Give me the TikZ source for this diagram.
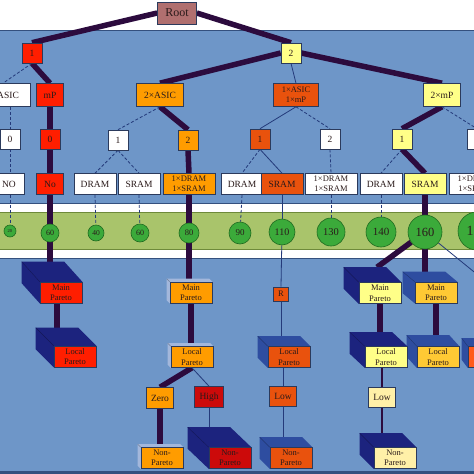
\documentclass[tikz,border=0pt]{standalone}
\usepackage{fontspec}
\setmainfont{Liberation Serif}
\usetikzlibrary{calc}
\pgfdeclarelayer{bg}
\pgfdeclarelayer{edges}
\pgfdeclarelayer{depth}
\pgfsetlayers{bg,edges,depth,main}
\definecolor{bgblue}{HTML}{6E96C8}
\definecolor{frame}{HTML}{34507E}
\definecolor{bandgreen}{HTML}{A9C46B}
\definecolor{banddark}{HTML}{6E8A3A}
\definecolor{leafgreen}{HTML}{3BAA3A}
\definecolor{leafdark}{HTML}{1F6B20}
\definecolor{wire}{HTML}{2C0B3E}
\definecolor{linkblue}{HTML}{243A7A}
\definecolor{edgecol}{HTML}{2B3A5C}
\definecolor{ink}{HTML}{2A1A1A}
\definecolor{rootc}{HTML}{B06F6F}
\definecolor{redc}{HTML}{FF1E00}
\definecolor{orangec}{HTML}{FF9C00}
\definecolor{darkor}{HTML}{E9520D}
\definecolor{yellowc}{HTML}{FFFF88}
\definecolor{paleyel}{HTML}{FFF0A8}
\definecolor{goldc}{HTML}{FFC934}
\definecolor{darkred}{HTML}{CC0A0A}
\definecolor{redor}{HTML}{FF5A1A}
\definecolor{deepnavy}{HTML}{1C237E}
\definecolor{midblue}{HTML}{2E4DA0}
\definecolor{paleblue}{HTML}{A3B7DB}
\tikzset{
  box/.style={draw=edgecol, line width=0.6pt, inner sep=1pt, minimum height=21pt,
    align=center, text=ink, font=\fontsize{9.5}{10}\selectfont},
  twoline/.style={font=\fontsize{8.5}{10}\selectfont},
  numbox/.style={box, minimum width=20pt, minimum height=20pt},
  parbox/.style={box, minimum width=42pt, font=\fontsize{8.5}{10.5}\selectfont},
  val/.style={circle, fill=leafgreen, draw=leafdark, line width=0.6pt, inner sep=0pt, text=ink},
  heavy/.style={draw=wire, line width=5.5pt},
  medium/.style={draw=wire, line width=2.6pt},
  link/.style={draw=linkblue, line width=0.8pt},
  dashlink/.style={draw=linkblue, line width=0.8pt, dash pattern=on 3pt off 2pt}
}
% front face as a node, the block behind it on the depth layer
\newcommand{\paretobox}[6]{%
  \node[parbox, fill=#4] (#1) at (#2) {#6};
  \coordinate (#1-top) at ($(#1.north)+(#3)$);
  \begin{pgfonlayer}{depth}
    \fill[#5] ($(#1.north west)+(#3)$) -- ($(#1.north east)+(#3)$) -- (#1.north east)
      -- (#1.south east) -- (#1.south west) -- ($(#1.south west)+(#3)$) -- cycle;
    \draw[#5!70!black, line width=0.4pt] (#1.north west) -- ($(#1.north west)+(#3)$);
  \end{pgfonlayer}}

\begin{document}
\begin{tikzpicture}[x=1pt, y=-1pt]
  \useasboundingbox (0,0) rectangle (474,474);

  \begin{pgfonlayer}{bg}
    \fill[white] (0,0) rectangle (474,474);
    \fill[bgblue] (0,30) rectangle (474,203);
    \draw[frame, line width=1pt] (0,30) -- (474,30);
    \draw[frame, line width=0.8pt] (0,203) -- (474,203);
    \fill[bandgreen] (0,212) rectangle (474,249);
    \draw[banddark, line width=0.8pt] (0,212) -- (474,212);
    \draw[banddark, line width=0.8pt] (0,249) -- (474,249);
    \fill[bgblue] (0,258) rectangle (474,474);
    \draw[frame, line width=0.8pt] (0,258) -- (474,258);
    \fill[frame] (0,471) rectangle (474,474);
  \end{pgfonlayer}

  % tree
  \node[box, fill=rootc, minimum width=39pt, minimum height=22pt, font=\fontsize{12}{13}\selectfont] (root) at (177,13) {Root};

  \node[numbox, fill=redc] (a1) at (32,53) {1};
  \node[numbox, fill=yellowc] (a2) at (291,53) {2};

  \node[box, fill=white, minimum width=54pt, minimum height=23pt] (b1) at (3,95) {1×ASIC};
  \node[box, fill=redc, minimum width=27pt, minimum height=23pt] (b2) at (50,95) {mP};
  \node[box, fill=orangec, minimum width=47pt, minimum height=23pt] (b3) at (160,95) {2×ASIC};
  \node[box, fill=darkor, minimum width=45pt, minimum height=23pt, twoline] (b4) at (296,95) {1×ASIC\\1×mP};
  \node[box, fill=yellowc, minimum width=37pt, minimum height=23pt] (b5) at (442,95) {2×mP};

  \node[numbox, fill=white] (c1) at (10,139) {0};
  \node[numbox, fill=redc] (c2) at (50,139) {0};
  \node[numbox, fill=white] (c3) at (118,140) {1};
  \node[numbox, fill=orangec] (c4) at (188,140) {2};
  \node[numbox, fill=darkor] (c5) at (260,139) {1};
  \node[numbox, fill=white] (c6) at (330,139) {2};
  \node[numbox, fill=yellowc] (c7) at (402,139) {1};
  \node[numbox, fill=white] (c8) at (477,139) {2};

  \node[box, fill=white, minimum width=30pt] (d1) at (9,184) {NO};
  \node[box, fill=redc, minimum width=27pt] (d2) at (50,184) {No};
  \node[box, fill=white, minimum width=42pt] (d3) at (95,184) {DRAM};
  \node[box, fill=white, minimum width=42pt] (d4) at (139,184) {SRAM};
  \node[box, fill=orangec, minimum width=52pt, twoline] (d5) at (189,184) {1×DRAM\\1×SRAM};
  \node[box, fill=white, minimum width=42pt] (d6) at (242,184) {DRAM};
  \node[box, fill=darkor, minimum width=42pt] (d7) at (282,184) {SRAM};
  \node[box, fill=white, minimum width=52pt, twoline] (d8) at (331,184) {1×DRAM\\1×SRAM};
  \node[box, fill=white, minimum width=42pt] (d9) at (381,184) {DRAM};
  \node[box, fill=yellowc, minimum width=42pt] (d10) at (425,184) {SRAM};
  \node[box, fill=white, minimum width=52pt, twoline] (d11) at (475,184) {1×DRAM\\1×SRAM};

  % values
  \node[val, minimum size=12pt, font=\fontsize{4.5}{5}\selectfont] (e1) at (10,231) {20};
  \node[val, minimum size=18pt, font=\fontsize{8}{9}\selectfont] (e2) at (50,233) {60};
  \node[val, minimum size=16pt, font=\fontsize{7.5}{8}\selectfont] (e3) at (96,233) {40};
  \node[val, minimum size=18pt, font=\fontsize{8}{9}\selectfont] (e4) at (140,233) {60};
  \node[val, minimum size=20pt, font=\fontsize{8.5}{9}\selectfont] (e5) at (189,233) {80};
  \node[val, minimum size=22pt, font=\fontsize{9}{10}\selectfont] (e6) at (240,233) {90};
  \node[val, minimum size=26pt, font=\fontsize{10}{11}\selectfont] (e7) at (282,232) {110};
  \node[val, minimum size=28pt, font=\fontsize{10.5}{11}\selectfont] (e8) at (331,232) {130};
  \node[val, minimum size=30pt, font=\fontsize{11}{12}\selectfont] (e9) at (381,232) {140};
  \node[val, minimum size=34pt, font=\fontsize{12.5}{13}\selectfont] (e10) at (425,232) {160};
  \node[val, minimum size=38pt, font=\fontsize{14}{15}\selectfont] (e11) at (477,231) {180};

  % pareto blocks
  \paretobox{f1}{61,292.5}{-18,-20}{redc}{deepnavy}{Main\\Pareto}
  \paretobox{f2}{191,292.5}{-3,-3}{orangec}{paleblue}{Main\\Pareto}
  \paretobox{f3}{380,293}{-15,-15}{yellowc}{deepnavy}{Main\\Pareto}
  \paretobox{f4}{436,292.5}{-12,-10}{goldc}{midblue}{Main\\Pareto}
  \paretobox{g1}{75,356.5}{-18,-18}{redc}{deepnavy}{Local\\Pareto}
  \paretobox{g2}{192,357}{-3,-3}{orangec}{paleblue}{Local\\Pareto}
  \paretobox{g3}{289,357}{-10,-10}{darkor}{midblue}{Local\\Pareto}
  \paretobox{g4}{386,357}{-15,-14}{yellowc}{deepnavy}{Local\\Pareto}
  \paretobox{g5}{438,357}{-10,-11}{goldc}{midblue}{Local\\Pareto}
  \paretobox{g6}{489,357}{-6,-8}{redor}{midblue}{Local\\Pareto}

  \node[box, fill=darkor, minimum width=15pt, minimum height=14pt, inner sep=0pt, font=\fontsize{8.5}{9}\selectfont] (h3) at (281,294) {R};
  \node[box, fill=orangec, minimum width=27pt] (h1) at (160,398) {Zero};
  \node[box, fill=darkred, minimum width=29pt] (h2) at (209,397) {High};
  \node[box, fill=darkor, minimum width=27pt, minimum height=20pt] (h4) at (283,396) {Low};
  \node[box, fill=paleyel, minimum width=27pt, minimum height=20pt] (h5) at (382,397) {Low};

  \paretobox{k1}{162,458}{-3,-3}{orangec}{paleblue}{Non-\\Pareto}
  \paretobox{k2}{230,458}{-21,-20}{darkred}{deepnavy}{Non-\\Pareto}
  \paretobox{k3}{291,458}{-10,-10}{darkor}{midblue}{Non-\\Pareto}
  \paretobox{k4}{395,458}{-14,-14}{paleyel}{deepnavy}{Non-\\Pareto}

  \coordinate (off1) at (500,293);

  % connectors
  \begin{pgfonlayer}{edges}
    \draw[heavy] (root.west) -- (a1.north);
    \draw[heavy] (root.east) -- (a2.north);
    \draw[heavy] (a1.south) -- (b2.north);
    \draw[heavy] (a2.west) -- (b3.north);
    \draw[heavy] (a2.east) -- (b5.north);
    \draw[link] (a2.south) -- (b4.north);
    \draw[dashlink] (a1.south) -- (b1.north);

    \draw[dashlink] (b1.south -| c1) -- (c1.north);
    \draw[heavy] (b2.south) -- (c2.north);
    \draw[dashlink] (b3.south) -- (c3.north);
    \draw[heavy] (b3.south) -- (c4.north);
    \draw[link] (b4.south) -- (c5.north);
    \draw[dashlink] (b4.south) -- (c6.north);
    \draw[heavy] (b5.south) -- (c7.north);
    \draw[dashlink] (b5.south) -- (c8.north);

    \draw[dashlink] (c1.south) -- (c1.south |- d1.north);
    \draw[heavy] (c2.south) -- (d2.north);
    \draw[dashlink] (c3.south) -- (d3.north);
    \draw[dashlink] (c3.south) -- (d4.north);
    \draw[heavy] (c4.south) -- (d5.north);
    \draw[dashlink] (c5.south) -- (d6.north);
    \draw[link] (c5.south) -- (d7.north);
    \draw[dashlink] (c6.south) -- (d8.north);
    \draw[dashlink] (c7.south) -- (d9.north);
    \draw[heavy] (c7.south) -- (d10.north);

    \draw[dashlink] (c1.south |- d1.south) -- (e1);
    \draw[heavy] (d2.south) -- (e2);
    \draw[dashlink] (d3.south) -- (e3);
    \draw[dashlink] (d4.south) -- (e4);
    \draw[heavy] (d5.south) -- (e5);
    \draw[dashlink] (d6.south) -- (e6);
    \draw[link] (d7.south) -- (e7);
    \draw[dashlink] (d8.south) -- (e8);
    \draw[dashlink] (d9.south) -- (e9);
    \draw[heavy] (d10.south) -- (e10);
    \draw[dashlink] (d11.south) -- (e11);

    \draw[heavy] (e2) -- (e2 |- f1-top);
    \draw[heavy] (g1-top |- f1.south) -- (g1-top);
    \draw[heavy] (e5) -- (e5 |- f2-top);
    \draw[heavy] (f2.south) -- (f2.south |- g2-top);
    \draw[heavy] (g2.south) -- (h1.north);
    \draw[link] (g2.south) -- (h2.north);
    \draw[heavy] (h1.south) -- (h1.south |- k1-top);
    \draw[link] (h2.south) -- (h2.south |- k2-top);

    \draw[link] (e7) -- (h3.north);
    \draw[link] (h3.south) -- (h3.south |- g3-top);
    \draw[link] (h4.north |- g3.south) -- (h4.north);
    \draw[link] (h4.south) -- (h4.south |- k3-top);

    \draw[heavy] (e10) -- ($(f3-top)+(12,0)$);
    \draw[heavy] (e10) -- (e10 |- f4-top);
    \draw[link] (e10) -- (off1);
    \draw[heavy] (f3.south) -- (f3.south |- g4-top);
    \draw[heavy] (f4.south) -- (f4.south |- g5-top);
    \draw[medium] (h5.north |- g4.south) -- (h5.north);
    \draw[medium] (h5.south) -- (h5.south |- k4-top);
  \end{pgfonlayer}
\end{tikzpicture}
\end{document}
